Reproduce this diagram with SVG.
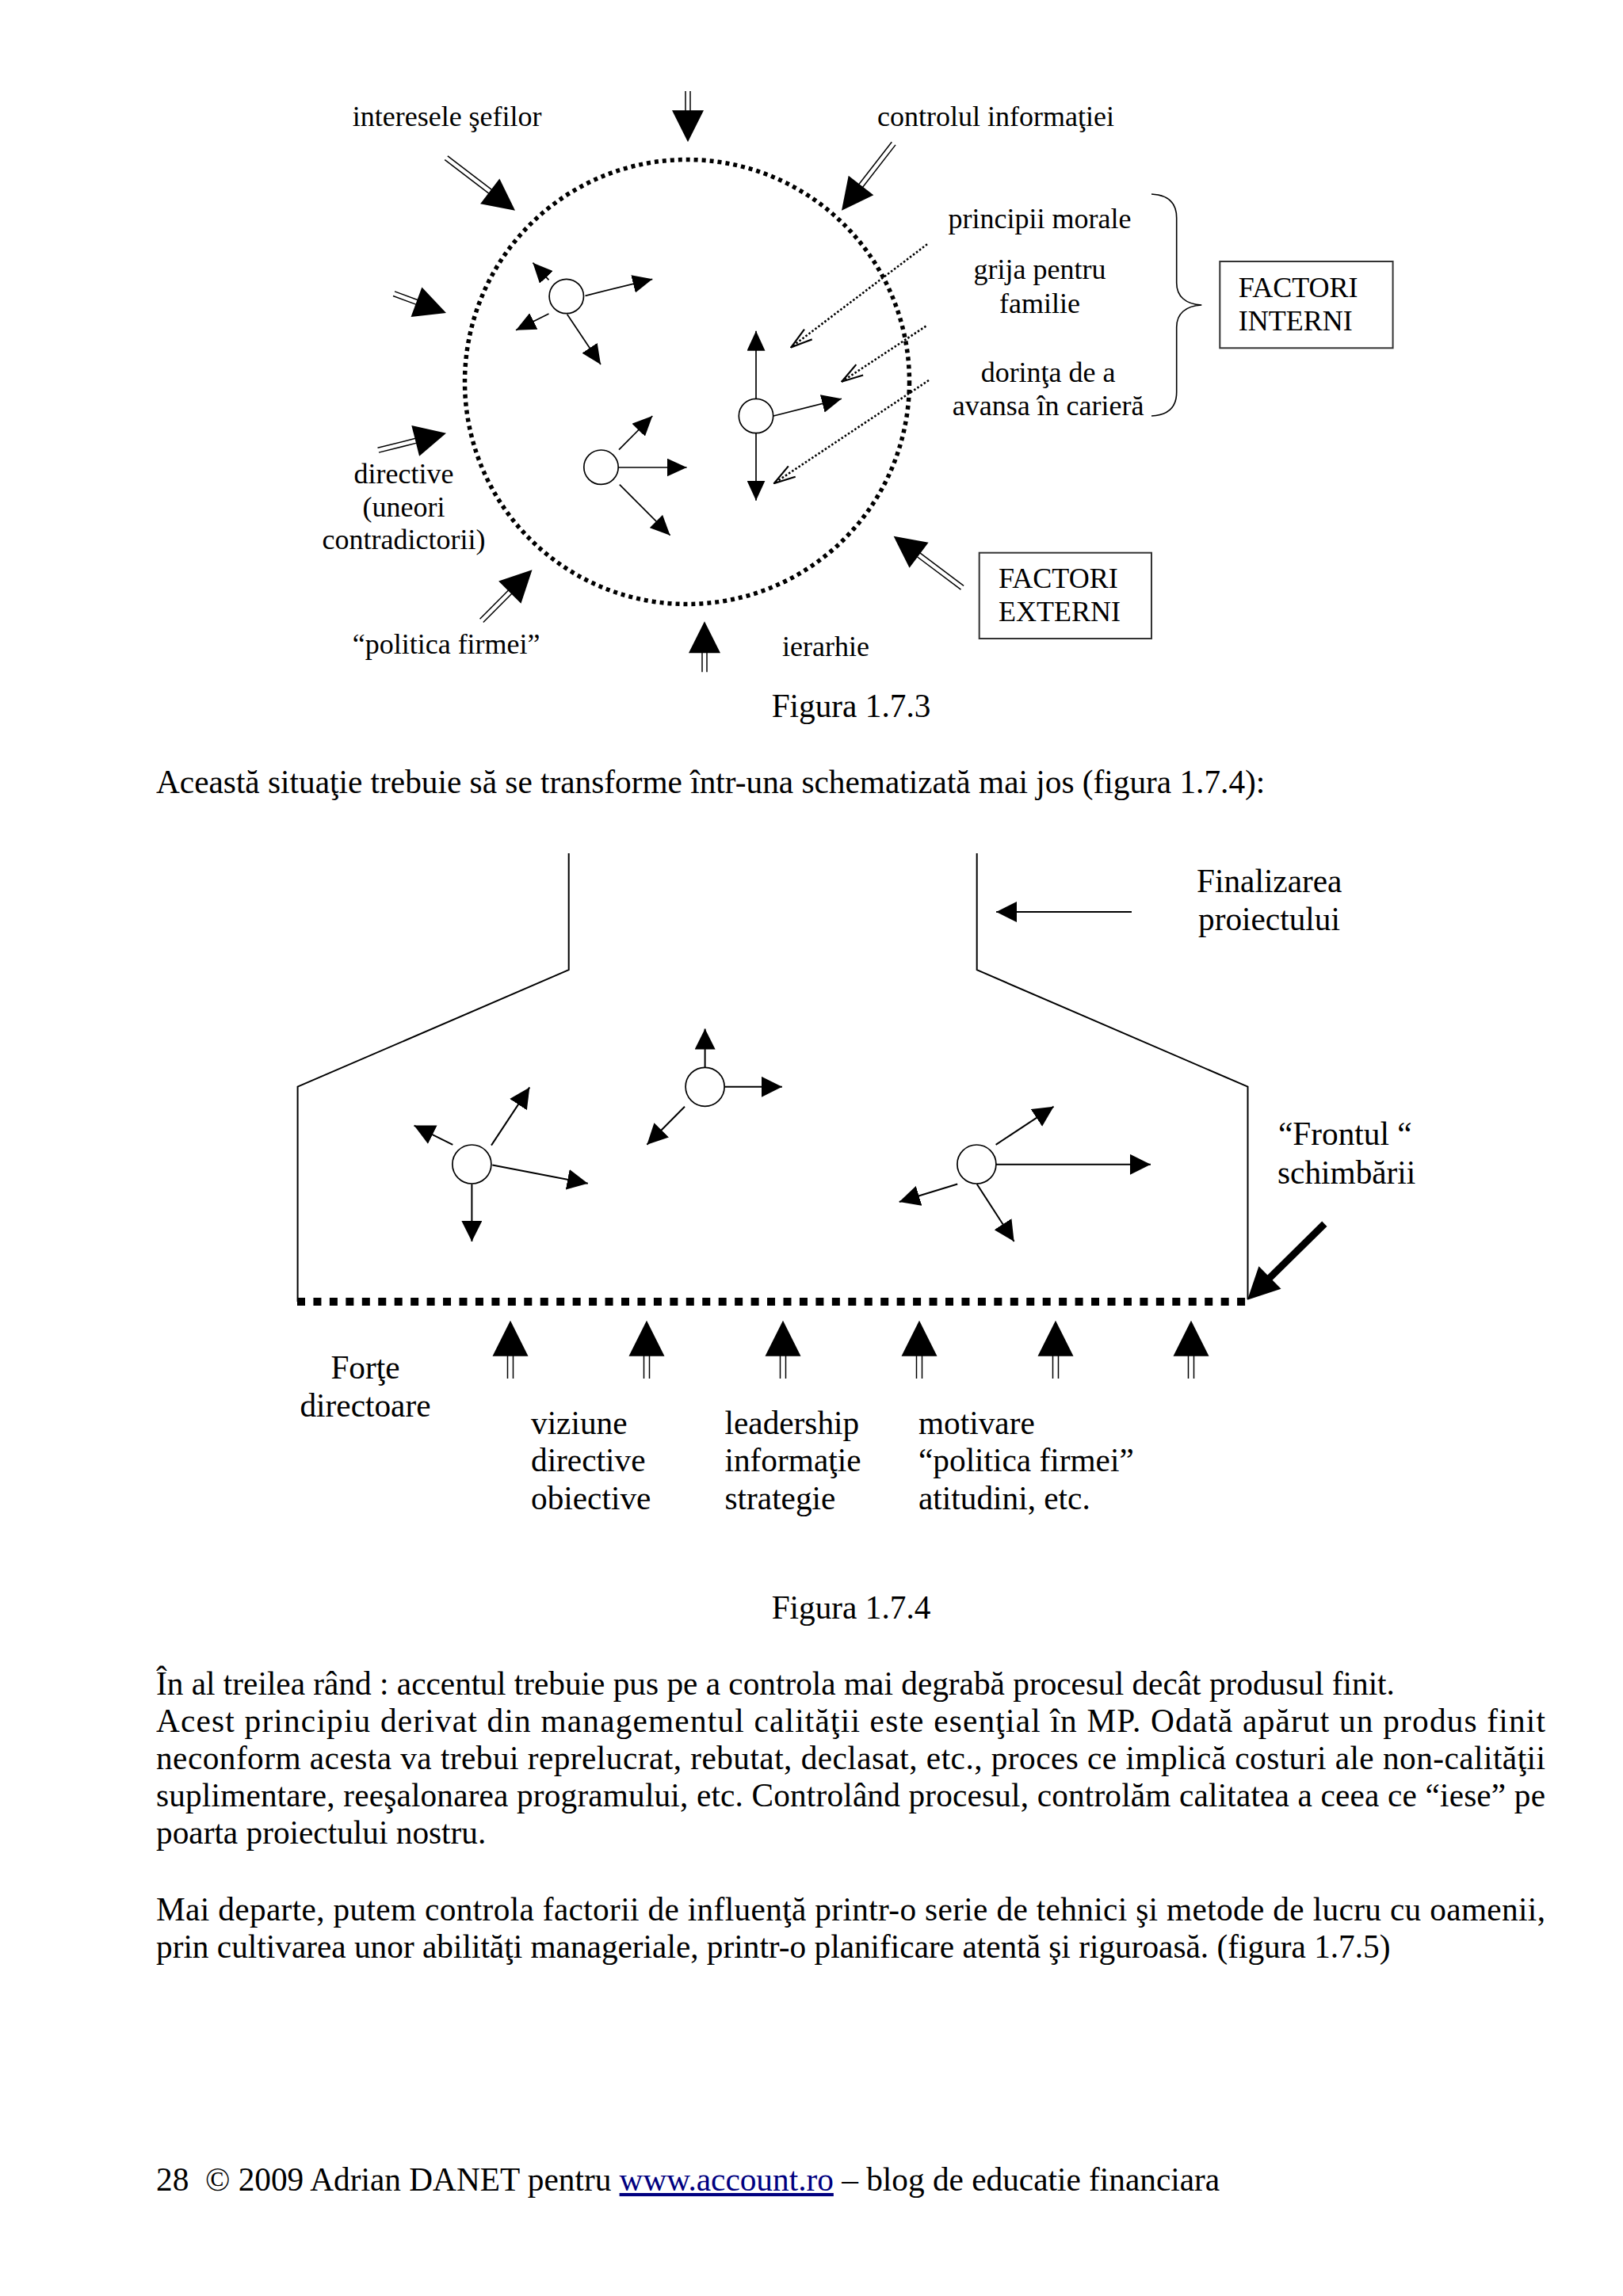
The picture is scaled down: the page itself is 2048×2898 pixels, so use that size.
<svg xmlns="http://www.w3.org/2000/svg" width="2048" height="2898" viewBox="0 0 2048 2898">
<style>
text{font-family:"Liberation Serif","Times New Roman",serif;fill:#000}
.s{font-size:36px}
.m{font-size:41.3px}
.mid{text-anchor:middle}
.ln{stroke:#000;stroke-width:2;fill:none}
.arr{stroke:#000;stroke-width:1.7;fill:none;marker-end:url(#ah)}
.arr2{stroke:#000;stroke-width:2;fill:none;marker-end:url(#ah2)}
.dot{stroke:#000;stroke-width:2.6;stroke-dasharray:2.5 2.5;fill:none;marker-end:url(#oh)}
.node{fill:#fff;stroke:#000;stroke-width:1.7}
.box{fill:#fff;stroke:#333;stroke-width:2}
.dbl line{stroke:#000;stroke-width:1.5}
.hd{fill:#000}
</style>
<defs>
<marker id="ah" markerUnits="userSpaceOnUse" markerWidth="25" markerHeight="23" viewBox="0 0 25 23" refX="25" refY="11.5" orient="auto"><path d="M0,0 L25,11.5 L0,23 z" fill="#000"/></marker>
<marker id="ah2" markerUnits="userSpaceOnUse" markerWidth="26" markerHeight="26" viewBox="0 0 26 26" refX="26" refY="13" orient="auto"><path d="M0,0 L26,13 L0,26 z" fill="#000"/></marker>
<marker id="oh" markerUnits="userSpaceOnUse" markerWidth="30" markerHeight="20" viewBox="0 0 30 20" refX="29" refY="10" orient="auto"><path d="M2,2 L29,10 L2,18" fill="none" stroke="#000" stroke-width="2.2"/></marker>
</defs>
<rect width="2048" height="2898" fill="#fff"/>

<!-- Figure 1.7.3 -->
<g id="fig173-boundary">
<circle cx="867" cy="482" r="280.5" fill="none" stroke="#000" stroke-width="5.5" stroke-dasharray="5 5"/>
</g>
<g id="fig173-nodeA"><circle class="node" cx="714.8" cy="374" r="21.7"/></g>
<g id="fig173-nodeB"><circle class="node" cx="758.5" cy="589.7" r="21.7"/></g>
<g id="fig173-nodeC"><circle class="node" cx="954" cy="525" r="21.7"/></g>

<g id="fig173-labels">
<text class="s" x="444.7" y="159.3">interesele şefilor</text>
<text class="s" x="1107" y="159.3">controlul informaţiei</text>
<text class="s mid" x="1312" y="288.3">principii morale</text>
<text class="s mid" x="1312" y="351.7">grija pentru</text>
<text class="s mid" x="1312" y="395">familie</text>
<text class="s mid" x="1322.6" y="481.7">dorinţa de a</text>
<text class="s mid" x="1322.6" y="524">avansa în carieră</text>
<text class="s mid" x="509.5" y="610">directive</text>
<text class="s mid" x="509.5" y="651.7">(uneori</text>
<text class="s mid" x="509.5" y="693.3">contradictorii)</text>
<text class="s" x="444.7" y="825">“politica firmei”</text>
<text class="s" x="987" y="828">ierarhie</text>
</g>
<g id="fig173-brace"><path class="ln" style="stroke-width:1.6" d="M1453,245 C1474,246 1484.7,256 1484.7,275 L1484.7,357 C1484.7,374 1496,384 1516.3,385 C1496,386 1484.7,396 1484.7,413 L1484.7,495 C1484.7,514 1474,524 1453,525"/></g>
<g id="fig173-factori-interni">
<rect class="box" x="1539.3" y="330" width="218.3" height="109.3"/>
<text class="s" x="1562.8" y="375">FACTORI</text>
<text class="s" x="1562.8" y="416.7">INTERNI</text>
</g>
<g id="fig173-factori-externi">
<rect class="box" x="1235.7" y="697.7" width="217.3" height="108.3"/>
<text class="s" x="1260" y="741.7">FACTORI</text>
<text class="s" x="1260" y="784">EXTERNI</text>
</g>
<text class="m mid" x="1074" y="905">Figura 1.7.3</text>

<g id="fig173-connectors">
<line class="arr" x1="692.5" y1="353.3" x2="672.4" y2="331.7"/>
<line class="arr" x1="738.5" y1="373.3" x2="823.3" y2="352.3"/>
<line class="arr" x1="692.5" y1="396" x2="651" y2="416.7"/>
<line class="arr" x1="715.7" y1="396.7" x2="758" y2="460"/>
<line class="arr" x1="781" y1="567.7" x2="823.3" y2="525"/>
<line class="arr" x1="780.4" y1="590" x2="866.6" y2="590"/>
<line class="arr" x1="781.8" y1="611.7" x2="845.6" y2="675.7"/>
<line class="arr" x1="954" y1="503.3" x2="954" y2="417.7"/>
<line class="arr" x1="976" y1="525" x2="1062" y2="503.3"/>
<line class="arr" x1="954" y1="546.7" x2="954" y2="631.7"/>
<line class="dot" x1="1170" y1="308.3" x2="998.3" y2="438.3"/>
<line class="dot" x1="1168.4" y1="411.7" x2="1062.2" y2="481.7"/>
<line class="dot" x1="1172" y1="480" x2="976.8" y2="610"/>
<g class="dbl" transform="translate(868,179.3) rotate(90)"><line x1="-64.3" y1="-3" x2="-39" y2="-3"/><line x1="-64.3" y1="3" x2="-39" y2="3"/><polygon class="hd" points="0,0 -40,-20 -40,20"/></g>
<g class="dbl" transform="translate(650,265.7) rotate(37.35)"><line x1="-109.4" y1="-3" x2="-39" y2="-3"/><line x1="-109.4" y1="3" x2="-39" y2="3"/><polygon class="hd" points="0,0 -40,-20 -40,20"/></g>
<g class="dbl" transform="translate(1062,265.7) rotate(127.8)"><line x1="-107.1" y1="-3" x2="-39" y2="-3"/><line x1="-107.1" y1="3" x2="-39" y2="3"/><polygon class="hd" points="0,0 -40,-20 -40,20"/></g>
<g class="dbl" transform="translate(563,395) rotate(20.2)"><line x1="-70.3" y1="-3" x2="-39" y2="-3"/><line x1="-70.3" y1="3" x2="-39" y2="3"/><polygon class="hd" points="0,0 -40,-20 -40,20"/></g>
<g class="dbl" transform="translate(563,546.7) rotate(-14.1)"><line x1="-88.4" y1="-3" x2="-39" y2="-3"/><line x1="-88.4" y1="3" x2="-39" y2="3"/><polygon class="hd" points="0,0 -40,-20 -40,20"/></g>
<g class="dbl" transform="translate(671.5,719.3) rotate(-45.1)"><line x1="-90.4" y1="-3" x2="-39" y2="-3"/><line x1="-90.4" y1="3" x2="-39" y2="3"/><polygon class="hd" points="0,0 -40,-20 -40,20"/></g>
<g class="dbl" transform="translate(889,784.3) rotate(-90)"><line x1="-64" y1="-3" x2="-39" y2="-3"/><line x1="-64" y1="3" x2="-39" y2="3"/><polygon class="hd" points="0,0 -40,-20 -40,20"/></g>
<g class="dbl" transform="translate(1127.6,676.7) rotate(-143.1)"><line x1="-108.4" y1="-3" x2="-39" y2="-3"/><line x1="-108.4" y1="3" x2="-39" y2="3"/><polygon class="hd" points="0,0 -40,-20 -40,20"/></g>
</g>

<text class="m" x="197" y="1001">Această situaţie trebuie să se transforme într-una schematizată mai jos (figura 1.7.4):</text>

<!-- Figure 1.7.4 -->
<g id="fig174-funnel">
<polyline class="ln" points="717.7,1077 717.7,1224.2 375.6,1371.7 375.6,1643"/>
<polyline class="ln" points="1232.7,1077 1232.7,1224.2 1574.5,1371.7 1574.5,1640"/>
<line x1="375" y1="1643" x2="1572" y2="1643" stroke="#000" stroke-width="10" stroke-dasharray="10 10.45"/>
</g>
<g id="fig174-nodeD"><circle class="node" cx="595.4" cy="1469.5" r="24.5"/></g>
<g id="fig174-nodeE"><circle class="node" cx="889.6" cy="1371.8" r="24.5"/></g>
<g id="fig174-nodeF"><circle class="node" cx="1232.4" cy="1469.5" r="24.5"/></g>
<g id="fig174-labels">
<text class="m" x="1510" y="1126">Finalizarea</text>
<text class="m" x="1512" y="1173.5">proiectului</text>
<text class="m" x="1613" y="1445">“Frontul “</text>
<text class="m" x="1612" y="1494">schimbării</text>
<text class="m mid" x="461" y="1740">Forţe</text>
<text class="m mid" x="461" y="1788">directoare</text>
<text class="m" x="670" y="1810">viziune</text>
<text class="m" x="670" y="1857">directive</text>
<text class="m" x="670" y="1905">obiective</text>
<text class="m" x="914.5" y="1810">leadership</text>
<text class="m" x="914.5" y="1857">informaţie</text>
<text class="m" x="914.5" y="1905">strategie</text>
<text class="m" x="1159" y="1810">motivare</text>
<text class="m" x="1159" y="1857">“politica firmei”</text>
<text class="m" x="1159" y="1905">atitudini, etc.</text>
</g>
<text class="m mid" x="1074" y="2043">Figura 1.7.4</text>

<g id="fig174-connectors">
<line class="arr2" x1="571.3" y1="1444.8" x2="522.5" y2="1420.6"/>
<line class="arr2" x1="620" y1="1445.6" x2="668.3" y2="1372.4"/>
<line class="arr2" x1="621.3" y1="1470.6" x2="741.8" y2="1493.8"/>
<line class="arr2" x1="595.4" y1="1494.5" x2="595.4" y2="1567"/>
<line class="arr2" x1="889.6" y1="1347.4" x2="889.6" y2="1298.5"/>
<line class="arr2" x1="914" y1="1371.8" x2="986.9" y2="1371.8"/>
<line class="arr2" x1="864" y1="1396.7" x2="816.4" y2="1444.8"/>
<line class="arr2" x1="1256.6" y1="1444.8" x2="1329.6" y2="1396.7"/>
<line class="arr2" x1="1256.9" y1="1469.8" x2="1452" y2="1469.8"/>
<line class="arr2" x1="1208.2" y1="1494.5" x2="1134.7" y2="1517"/>
<line class="arr2" x1="1232.7" y1="1494.5" x2="1279.6" y2="1567"/>
<line class="arr2" x1="1428" y1="1151" x2="1257.1" y2="1151"/>
<g transform="translate(1574,1640.7) rotate(135.4)"><line x1="-136.7" y1="0" x2="-35" y2="0" stroke="#000" stroke-width="9"/><polygon class="hd" points="0,0 -40,-20 -40,20"/></g>
<g class="dbl" transform="translate(644,1666.7) rotate(-90)"><line x1="-73.3" y1="-3.5" x2="-44" y2="-3.5"/><line x1="-73.3" y1="3.5" x2="-44" y2="3.5"/><polygon class="hd" points="0,0 -45,-22.5 -45,22.5"/></g>
<g class="dbl" transform="translate(816,1666.7) rotate(-90)"><line x1="-73.3" y1="-3.5" x2="-44" y2="-3.5"/><line x1="-73.3" y1="3.5" x2="-44" y2="3.5"/><polygon class="hd" points="0,0 -45,-22.5 -45,22.5"/></g>
<g class="dbl" transform="translate(988,1666.7) rotate(-90)"><line x1="-73.3" y1="-3.5" x2="-44" y2="-3.5"/><line x1="-73.3" y1="3.5" x2="-44" y2="3.5"/><polygon class="hd" points="0,0 -45,-22.5 -45,22.5"/></g>
<g class="dbl" transform="translate(1160,1666.7) rotate(-90)"><line x1="-73.3" y1="-3.5" x2="-44" y2="-3.5"/><line x1="-73.3" y1="3.5" x2="-44" y2="3.5"/><polygon class="hd" points="0,0 -45,-22.5 -45,22.5"/></g>
<g class="dbl" transform="translate(1332,1666.7) rotate(-90)"><line x1="-73.3" y1="-3.5" x2="-44" y2="-3.5"/><line x1="-73.3" y1="3.5" x2="-44" y2="3.5"/><polygon class="hd" points="0,0 -45,-22.5 -45,22.5"/></g>
<g class="dbl" transform="translate(1503,1666.7) rotate(-90)"><line x1="-73.3" y1="-3.5" x2="-44" y2="-3.5"/><line x1="-73.3" y1="3.5" x2="-44" y2="3.5"/><polygon class="hd" points="0,0 -45,-22.5 -45,22.5"/></g>
</g>

<g id="body">
<text class="m" x="197" y="2139">În al treilea rând : accentul trebuie pus pe a controla mai degrabă procesul decât produsul finit.</text>
<text class="m" x="197" y="2186" textLength="1753" lengthAdjust="spacing">Acest principiu derivat din managementul calităţii este esenţial în MP. Odată apărut un produs finit</text>
<text class="m" x="197" y="2233" textLength="1753" lengthAdjust="spacing">neconform acesta va trebui reprelucrat, rebutat, declasat, etc., proces ce implică costuri ale non-calităţii</text>
<text class="m" x="197" y="2280" textLength="1753" lengthAdjust="spacing">suplimentare, reeşalonarea programului, etc. Controlând procesul, controlăm calitatea a ceea ce “iese” pe</text>
<text class="m" x="197" y="2327">poarta proiectului nostru.</text>
<text class="m" x="197" y="2424" textLength="1753" lengthAdjust="spacing">Mai departe, putem controla factorii de influenţă printr-o serie de tehnici şi metode de lucru cu oamenii,</text>
<text class="m" x="197" y="2471">prin cultivarea unor abilităţi manageriale, printr-o planificare atentă şi riguroasă. (figura 1.7.5)</text>
<text class="m" x="197" y="2765">28&#160; © 2009 Adrian DANET pentru <tspan style="fill:#000080;text-decoration:underline">www.account.ro</tspan> – blog de educatie financiara</text>
</g>
</svg>
